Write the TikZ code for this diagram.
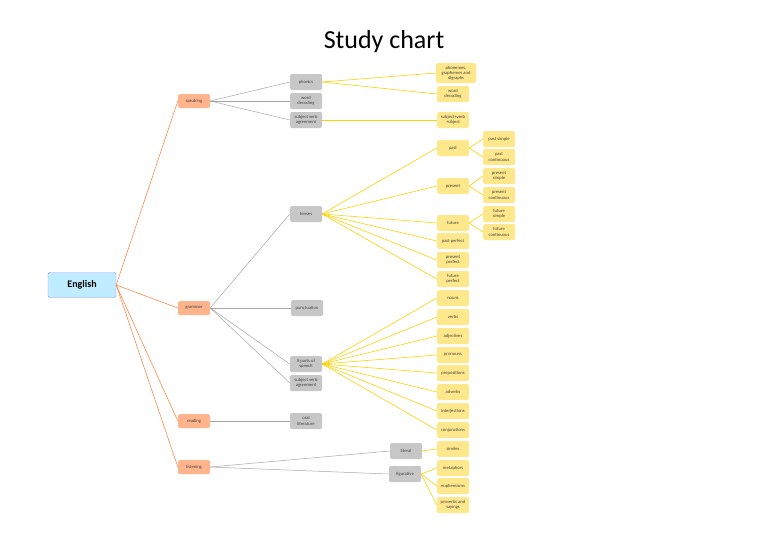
\documentclass[tikz,border=0pt]{standalone}
\usepackage{fontspec}
\setmainfont{Carlito}
\begin{document}
\begin{tikzpicture}[x=1pt,y=-1pt,
 base/.style={rounded corners=1.5pt,align=center,inner sep=0.5pt,font=\fontsize{4.6}{5.2}\selectfont,text=black!75},
 gn/.style={base,fill=black!22,minimum width=32pt,minimum height=16pt},
 on/.style={base,fill=orange!40!yellow!45,minimum width=32pt,minimum height=16pt},
 sn/.style={base,fill=red!30!orange!45,minimum width=32pt,minimum height=14pt,text=black!75},
 re/.style={draw=orange!70!red!80,line width=0.5pt},
 ge/.style={draw=black!35,line width=0.5pt},
 ye/.style={draw=yellow!70!orange,line width=0.6pt}]
\useasboundingbox (0,0) rectangle (768,543);
\node[font=\fontsize{26}{30}\selectfont] (title) at (384,42) {Study chart};
\node[base,fill=blue!30!cyan!25!white,draw=blue!40,minimum width=68pt,minimum height=25pt,font=\bfseries\fontsize{10}{12}\selectfont,text=black] (en) at (82,285) {English};
\node[sn] (sp) at (194,101) {speaking};
\node[sn] (gr) at (194,308) {grammar};
\node[sn] (rd) at (194,421) {reading};
\node[sn] (ls) at (194,467) {listening};
\foreach \n in {sp,gr,rd,ls} \draw[re] (en.east) -- (\n.west);
\node[gn] (ph) at (306,82) {phonics};
\node[gn] (wd) at (306,101) {word\\decoding};
\node[gn] (sv) at (306,120) {subject verb\\agreement};
\foreach \n in {ph,wd,sv} \draw[ge] (sp.east) -- (\n.west);
\node[gn] (te) at (306,214) {tenses};
\node[gn] (pu) at (307,308) {punctuation};
\node[gn] (ps) at (306,364) {8 parts of\\speech};
\node[gn] (sv2) at (306,383) {subject verb\\agreement};
\foreach \n in {te,pu,ps,sv2} \draw[ge] (gr.east) -- (\n.west);
\node[gn] (ol) at (306,421) {oral\\literature};
\draw[ge] (rd.east) -- (ol.west);
\node[gn] (li) at (406,451) {literal};
\node[gn] (fi) at (405,474) {figurative};
\foreach \n in {li,fi} \draw[ge] (ls.east) -- (\n.west);
\node[on,minimum width=40pt,minimum height=20pt] (pgd) at (456,73) {phonemes,\\graphemes and\\digraphs};
\node[on] (wd2) at (453,94) {word\\decoding};
\foreach \n in {pgd,wd2} \draw[ye] (ph.east) -- (\n.west);
\node[on] (svo) at (453,120) {subject+verb\\+object};
\draw[ye] (sv.east) -- (svo.west);
\foreach \n/\y/\t in {pa/148/past,pr/186/present,fu/223/future,pp/241/past perfect,prp/260/{present\\perfect},fp/279/{future\\perfect}}
 {\node[on] (\n) at (453,\y) {\t}; \draw[ye] (te.east) -- (\n.west);}
\foreach \n/\y/\t in {no/298/nouns,ve/317/verbs,ad/336/adjectives,pn/355/pronouns,pe/373/prepositions,av/392/adverbs,ij/411/interjections,cj/430/conjunctions}
 {\node[on] (\n) at (453,\y) {\t}; \draw[ye] (ps.east) -- (\n.west);}
\node[on] (si) at (453,449) {similes};
\draw[ye] (li.east) -- (si.west);
\foreach \n/\y/\t in {me/468/metaphors,eu/486/euphemisms,pv/505/{proverbs and\\sayings}}
 {\node[on] (\n) at (453,\y) {\t}; \draw[ye] (fi.east) -- (\n.west);}
\foreach \n/\p/\y/\t in {a1/pa/139/past simple,a2/pa/157/{past\\continuous},b1/pr/176/{present\\simple},b2/pr/195/{present\\continuous},c1/fu/214/{future\\simple},c2/fu/232/{future\\continuous}}
 {\node[on] (\n) at (499,\y) {\t}; \draw[ye] (\p.east) -- (\n.west);}
\end{tikzpicture}
\end{document}
